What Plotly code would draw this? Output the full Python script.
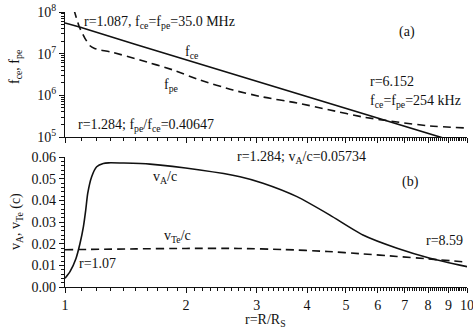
import plotly.graph_objects as go

# ---------------- data ----------------
r_fce = [1.0, 1.087, 1.5, 2.0, 3.0, 4.0, 5.0, 6.0, 7.0, 8.0, 9.0, 10.0]
fce = [5.45e7, 4.37e7, 1.66e7, 7.13e6, 2.17e6, 9.33e5, 4.86e5, 2.84e5, 1.81e5, 1.22e5, 8.67e4, 6.35e4]

r_fpe = [1.053, 1.085, 1.121, 1.154, 1.185, 1.225, 1.294, 1.537, 1.857, 2.167, 2.618, 3.108, 3.776, 4.56, 5.51, 6.70, 8.09, 10.0]
fpe = [1.12e8, 4.44e7, 2.34e7, 1.55e7, 1.33e7, 1.22e7, 1.11e7, 7.05e6, 4.06e6, 2.33e6, 1.34e6, 9.1e5, 6.55e5, 4.45e5, 3.02e5, 2.29e5, 1.84e5, 1.64e5]

r_va = [1.0, 1.029, 1.065, 1.090, 1.111, 1.126, 1.139, 1.165, 1.199, 1.245, 1.284, 1.4, 1.627, 2.167, 2.725, 3.108, 3.776, 4.56, 5.51, 6.70, 8.09, 10.0]
va = [0.0040, 0.0071, 0.0132, 0.0202, 0.0278, 0.0355, 0.0432, 0.0509, 0.0555, 0.0570, 0.0573, 0.0572, 0.0567, 0.0540, 0.0509, 0.0479, 0.0417, 0.0332, 0.0240, 0.0179, 0.0133, 0.0094]

r_vte = [1.0, 1.5, 2.0, 2.7, 3.5, 4.5, 5.5, 6.7, 8.0, 8.59, 10.0]
vte = [0.0172, 0.0176, 0.0178, 0.0178, 0.0173, 0.0164, 0.0153, 0.0141, 0.0130, 0.0125, 0.0115]

x_major = [1, 2, 3, 4, 5, 6, 7, 8, 9, 10]
x_major_text = ["1", "2", "3", "4", "5", "6", "7", "8", "9", "10"]
x_minor = [round(i + k / 10, 1) for i in range(1, 10) for k in range(1, 10)]
f_major = [1e5, 1e6, 1e7, 1e8]
f_major_text = ["10<sup>5</sup>", "10<sup>6</sup>", "10<sup>7</sup>", "10<sup>8</sup>"]
f_minor = [m * 10 ** e for e in (5, 6, 7) for m in range(2, 10)]

# ---------------- layout helpers ----------------
W, H = 473, 330
ML, MR, MT, MB = 65, 6, 12, 43
PW, PH = W - ML - MR, H - MT - MB


def px(x):
    return (x - ML) / PW


def py(y):
    return (H - MB - y) / PH


FONT = "Liberation Serif"
BLACK = "#111"

fig = go.Figure()
fig.add_trace(go.Scatter(x=r_fce, y=fce, mode="lines", line=dict(color=BLACK, width=1.6),
                         xaxis="x", yaxis="y", showlegend=False))
fig.add_trace(go.Scatter(x=r_fpe, y=fpe, mode="lines", line=dict(color=BLACK, width=1.6, dash="8px,5px", shape="spline", smoothing=0.6),
                         xaxis="x", yaxis="y", showlegend=False))
fig.add_trace(go.Scatter(x=r_va, y=va, mode="lines", line=dict(color=BLACK, width=1.6, shape="spline", smoothing=0.6),
                         xaxis="x2", yaxis="y2", showlegend=False))
fig.add_trace(go.Scatter(x=r_vte, y=vte, mode="lines", line=dict(color=BLACK, width=1.6, dash="8px,5px", shape="spline", smoothing=0.6),
                         xaxis="x2", yaxis="y2", showlegend=False))

axis_common = dict(showline=True, linecolor=BLACK, linewidth=1.2, showgrid=False, zeroline=False,
                   ticks="outside", ticklen=5, tickwidth=1, tickcolor=BLACK, automargin=False,
                   ticklabeloverflow="allow",
                   tickfont=dict(family=FONT, size=14, color=BLACK))

top_lo = py(137)
bot_hi = py(157)

fig.update_layout(
    width=W, height=H,
    margin=dict(l=ML, r=MR, t=MT, b=MB),
    paper_bgcolor="white", plot_bgcolor="white",
    font=dict(family=FONT, size=14, color=BLACK),
    xaxis=dict(type="log", range=[0, 1], domain=[0, 1], anchor="y", showticklabels=False,
               tickmode="array", tickvals=x_major,
               minor=dict(tickmode="array", tickvals=x_minor, ticks="outside", ticklen=3, tickcolor=BLACK, showgrid=False),
               **axis_common),
    yaxis=dict(type="log", range=[5, 8], domain=[top_lo, 1], anchor="x",
               tickmode="array", tickvals=f_major, ticktext=f_major_text,
               minor=dict(tickmode="array", tickvals=f_minor, ticks="outside", ticklen=3, tickcolor=BLACK, showgrid=False),
               **axis_common),
    xaxis2=dict(type="log", range=[0, 1], domain=[0, 1], anchor="y2",
                tickmode="array", tickvals=x_major, ticktext=x_major_text,
                minor=dict(tickmode="array", tickvals=x_minor, ticks="outside", ticklen=3, tickcolor=BLACK, showgrid=False),
                **axis_common),
    yaxis2=dict(range=[0, 0.06], domain=[0, bot_hi], anchor="x2",
                tickmode="linear", tick0=0, dtick=0.01, tickformat=".2f",
                minor=dict(dtick=0.002, ticks="outside", ticklen=3, tickcolor=BLACK, showgrid=False),
                **axis_common),
)

ann = [
    # top panel
    (82, 22, "r=1.087, f<sub>ce</sub>=f<sub>pe</sub>=35.0 MHz", "left", 0),
    (407, 32, "(a)", "center", 0),
    (192, 53, "f<sub>ce</sub>", "center", 0),
    (171, 86, "f<sub>pe</sub>", "center", 0),
    (368, 82, "r=6.152", "left", 0),
    (368, 101, "f<sub>ce</sub>=f<sub>pe</sub>=254 kHz", "left", 0),
    (76, 125, "r=1.284; f<sub>pe</sub>/f<sub>ce</sub>=0.40647", "left", 0),
    (16, 67, "f<sub>ce</sub>, f<sub>pe</sub>", "center", -90),
    # bottom panel
    (235, 157, "r=1.284; v<sub>A</sub>/c=0.05734", "left", 0),
    (410, 182, "(b)", "center", 0),
    (165, 177, "v<sub>A</sub>/c", "center", 0),
    (177, 237, "v<sub>Te</sub>/c", "center", 0),
    (97, 263, "r=1.07", "center", 0),
    (444, 240, "r=8.59", "center", 0),
    (16, 222, "v<sub>A</sub>, v<sub>Te</sub> (c)", "center", -90),
    (265, 320, "r=R/R<sub>S</sub>", "center", 0),
]
for x, y, t, al, ang in ann:
    fig.add_annotation(x=px(x), y=py(y), xref="paper", yref="paper", text=t, showarrow=False,
                       xanchor=al, yanchor="middle", textangle=ang,
                       font=dict(family=FONT, size=14, color=BLACK))

fig.write_html("out.html", config={"displayModeBar": False},
               post_script="document.body.style.margin='0';document.body.style.overflow='hidden';")
